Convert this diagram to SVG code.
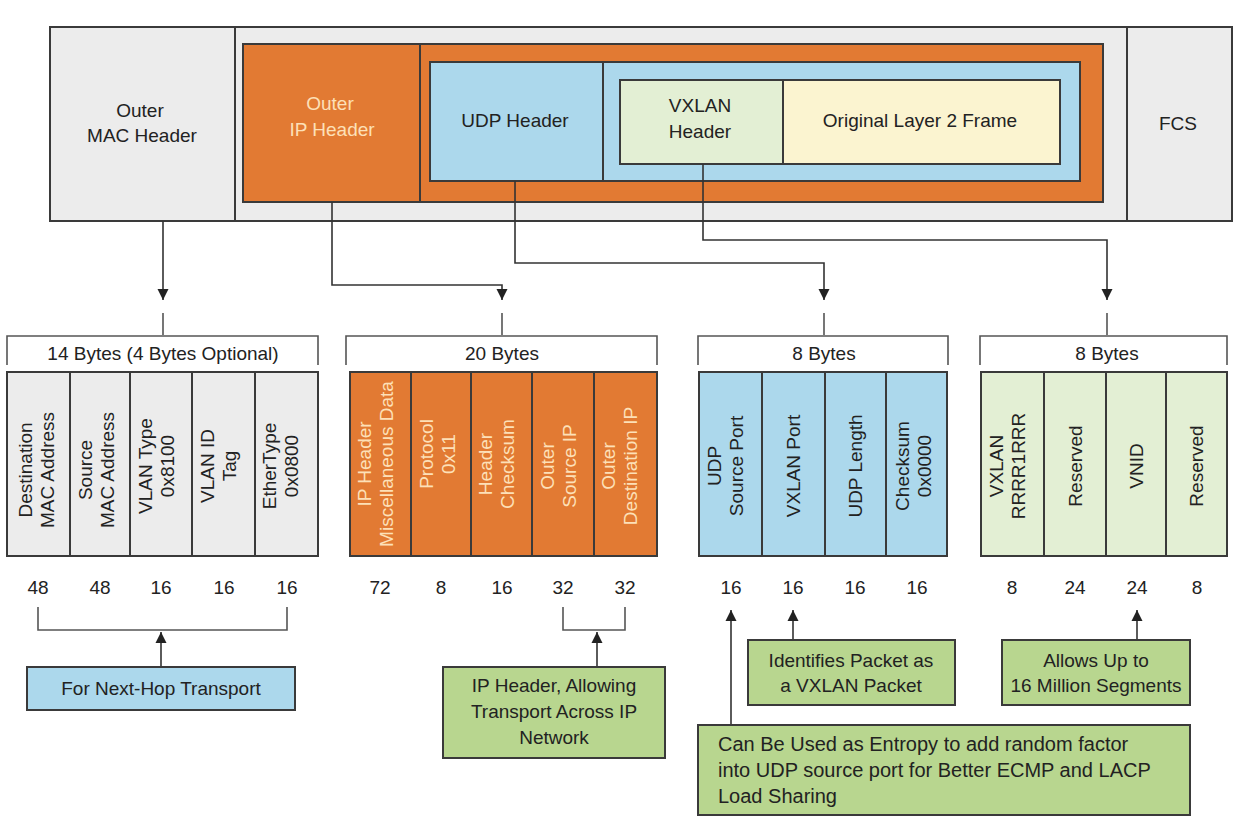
<svg xmlns="http://www.w3.org/2000/svg" width="1242" height="830" viewBox="0 0 1242 830">
<defs>
<marker id="ah" viewBox="0 0 10 10" refX="10" refY="5" markerWidth="7" markerHeight="7" orient="auto"><path d="M0,0 L10,5 L0,10 z" fill="#222"/></marker>
<style>
text{font-family:"Liberation Sans",Arial,sans-serif;fill:#222;}
.b{stroke:#3a3a3a;stroke-width:2;}
.g{fill:#ececec;}.o{fill:#e27a33;}.u{fill:#acd8ec;}.v{fill:#e3efd4;}.y{fill:#fbf4d0;}.n{fill:#b8d68f;}
.t{font-size:19px;text-anchor:middle;}
.f{font-size:19px;text-anchor:middle;}
.s{font-size:20px;text-anchor:start;}
.ot{fill:#fde0b8;}
.c{fill:none;stroke:#333;stroke-width:1.6;}
.br{fill:none;stroke:#555;stroke-width:1.6;}
</style>
</defs>
<g id="frame">
<rect class="b g" x="50" y="27" width="1182" height="194"/>
<line class="b" x1="235" y1="27" x2="235" y2="221"/>
<line class="b" x1="1127" y1="27" x2="1127" y2="221"/>
<text class="t" x="140" y="117">Outer</text><text class="t" x="142" y="142">MAC Header</text>
<text class="t" x="1178" y="130">FCS</text>
</g>
<g id="outer-ip">
<rect class="b o" x="243" y="44" width="860" height="158"/>
<line class="b" x1="420" y1="44" x2="420" y2="202"/>
<text class="t ot" x="330" y="110">Outer</text><text class="t ot" x="332" y="136">IP Header</text>
</g>
<g id="udp">
<rect class="b u" x="430" y="62" width="650" height="119"/>
<line class="b" x1="603" y1="62" x2="603" y2="181"/>
<text class="t" x="515" y="127">UDP Header</text>
</g>
<g id="vxlan">
<rect class="b v" x="620" y="80" width="163" height="84"/>
<rect class="b y" x="783" y="80" width="277" height="84"/>
<text class="t" x="700" y="112">VXLAN</text><text class="t" x="700" y="138">Header</text>
<text class="t" x="920" y="127">Original Layer 2 Frame</text>
</g>
<g id="connectors">
<path class="c" d="M163,221 V300" marker-end="url(#ah)"/>
<path class="c" d="M332,202 V285 H502 V300" marker-end="url(#ah)"/>
<path class="c" d="M515,181 V263 H824 V300" marker-end="url(#ah)"/>
<path class="c" d="M703,164 V240 H1107 V300" marker-end="url(#ah)"/>
<path class="br" d="M163,313 V335 M502,313 V335 M824,313 V335 M1107,313 V335"/>
<path class="br" d="M7,365 V336 H318 V365 M346,365 V336 H657 V365 M698,365 V336 H948 V365 M980,365 V336 H1227 V365"/>
<path class="br" d="M38,607 V630 H287 V607 M563,607 V630 H625 V607"/>
<path class="c" d="M161,667 V632" marker-end="url(#ah)"/>
<path class="c" d="M597,667 V632" marker-end="url(#ah)"/>
<path class="c" d="M731,725 V610" marker-end="url(#ah)"/>
<path class="c" d="M793,640 V610" marker-end="url(#ah)"/>
<path class="c" d="M1137,640 V610" marker-end="url(#ah)"/>
</g>
<g id="bytes-labels">
<text class="t" x="163" y="360">14 Bytes (4 Bytes Optional)</text>
<text class="t" x="502" y="360">20 Bytes</text>
<text class="t" x="824" y="360">8 Bytes</text>
<text class="t" x="1107" y="360">8 Bytes</text>
</g>
<g id="mac-fields">
<rect class="b g" x="7" y="372" width="311" height="184"/>
<path class="b" d="M70,372V556M130,372V556M192,372V556M255,372V556"/>
<text class="f" transform="translate(32,470) rotate(-90)">Destination</text>
<text class="f" transform="translate(54,470) rotate(-90)">MAC Address</text>
<text class="f" transform="translate(92,470) rotate(-90)">Source</text>
<text class="f" transform="translate(114,470) rotate(-90)">MAC Address</text>
<text class="f" transform="translate(152,466) rotate(-90)">VLAN Type</text>
<text class="f" transform="translate(174,466) rotate(-90)">0x8100</text>
<text class="f" transform="translate(214,466) rotate(-90)">VLAN ID</text>
<text class="f" transform="translate(236,466) rotate(-90)">Tag</text>
<text class="f" transform="translate(276,466) rotate(-90)">EtherType</text>
<text class="f" transform="translate(298,466) rotate(-90)">0x0800</text>
</g>
<g id="ip-fields">
<rect class="b o" x="350" y="372" width="307" height="184"/>
<path class="b" d="M411,372V556M471,372V556M532,372V556M594,372V556"/>
<text class="f ot" transform="translate(371,464) rotate(-90)">IP Header</text>
<text class="f ot" transform="translate(393,464) rotate(-90)">Miscellaneous Data</text>
<text class="f ot" transform="translate(433,454) rotate(-90)">Protocol</text>
<text class="f ot" transform="translate(455,454) rotate(-90)">0x11</text>
<text class="f ot" transform="translate(492,464) rotate(-90)">Header</text>
<text class="f ot" transform="translate(514,464) rotate(-90)">Checksum</text>
<text class="f ot" transform="translate(554,466) rotate(-90)">Outer</text>
<text class="f ot" transform="translate(576,466) rotate(-90)">Source IP</text>
<text class="f ot" transform="translate(615,466) rotate(-90)">Outer</text>
<text class="f ot" transform="translate(637,466) rotate(-90)">Destination IP</text>
</g>
<g id="udp-fields">
<rect class="b u" x="699" y="372" width="248" height="184"/>
<path class="b" d="M762,372V556M825,372V556M886,372V556"/>
<text class="f" transform="translate(721,466) rotate(-90)">UDP</text>
<text class="f" transform="translate(743,466) rotate(-90)">Source Port</text>
<text class="f" transform="translate(800,466) rotate(-90)">VXLAN Port</text>
<text class="f" transform="translate(862,466) rotate(-90)">UDP Length</text>
<text class="f" transform="translate(909,466) rotate(-90)">Checksum</text>
<text class="f" transform="translate(931,466) rotate(-90)">0x0000</text>
</g>
<g id="vxlan-fields">
<rect class="b v" x="981" y="372" width="246" height="184"/>
<path class="b" d="M1044,372V556M1106,372V556M1166,372V556"/>
<text class="f" transform="translate(1003,466) rotate(-90)">VXLAN</text>
<text class="f" transform="translate(1025,466) rotate(-90)">RRRR1RRR</text>
<text class="f" transform="translate(1082,466) rotate(-90)">Reserved</text>
<text class="f" transform="translate(1143,466) rotate(-90)">VNID</text>
<text class="f" transform="translate(1203,466) rotate(-90)">Reserved</text>
</g>
<g id="bit-counts">
<text class="t" x="38" y="594">48</text><text class="t" x="100" y="594">48</text><text class="t" x="161" y="594">16</text><text class="t" x="224" y="594">16</text><text class="t" x="287" y="594">16</text>
<text class="t" x="380" y="594">72</text><text class="t" x="441" y="594">8</text><text class="t" x="502" y="594">16</text><text class="t" x="563" y="594">32</text><text class="t" x="625" y="594">32</text>
<text class="t" x="731" y="594">16</text><text class="t" x="793" y="594">16</text><text class="t" x="855" y="594">16</text><text class="t" x="917" y="594">16</text>
<text class="t" x="1012" y="594">8</text><text class="t" x="1075" y="594">24</text><text class="t" x="1137" y="594">24</text><text class="t" x="1197" y="594">8</text>
</g>
<g id="note-nexthop">
<rect class="b u" x="27" y="667" width="268" height="43"/>
<text class="t" x="161" y="695">For Next-Hop Transport</text>
</g>
<g id="note-ip">
<rect class="b n" x="443" y="667" width="222" height="91"/>
<text class="t" x="554" y="692">IP Header, Allowing</text>
<text class="t" x="554" y="718">Transport Across IP</text>
<text class="t" x="554" y="744">Network</text>
</g>
<g id="note-vxlan-port">
<rect class="b n" x="748" y="640" width="207" height="65"/>
<text class="t" x="851" y="667">Identifies Packet as</text>
<text class="t" x="851" y="692">a VXLAN Packet</text>
</g>
<g id="note-vnid">
<rect class="b n" x="1002" y="640" width="188" height="65"/>
<text class="t" x="1096" y="667">Allows Up to</text>
<text class="t" x="1096" y="692">16 Million Segments</text>
</g>
<g id="note-entropy">
<rect class="b n" x="698" y="725" width="492" height="90"/>
<text class="s" x="718" y="751">Can Be Used as Entropy to add random factor</text>
<text class="s" x="718" y="777">into UDP source port for Better ECMP and LACP</text>
<text class="s" x="718" y="803">Load Sharing</text>
</g>
</svg>
